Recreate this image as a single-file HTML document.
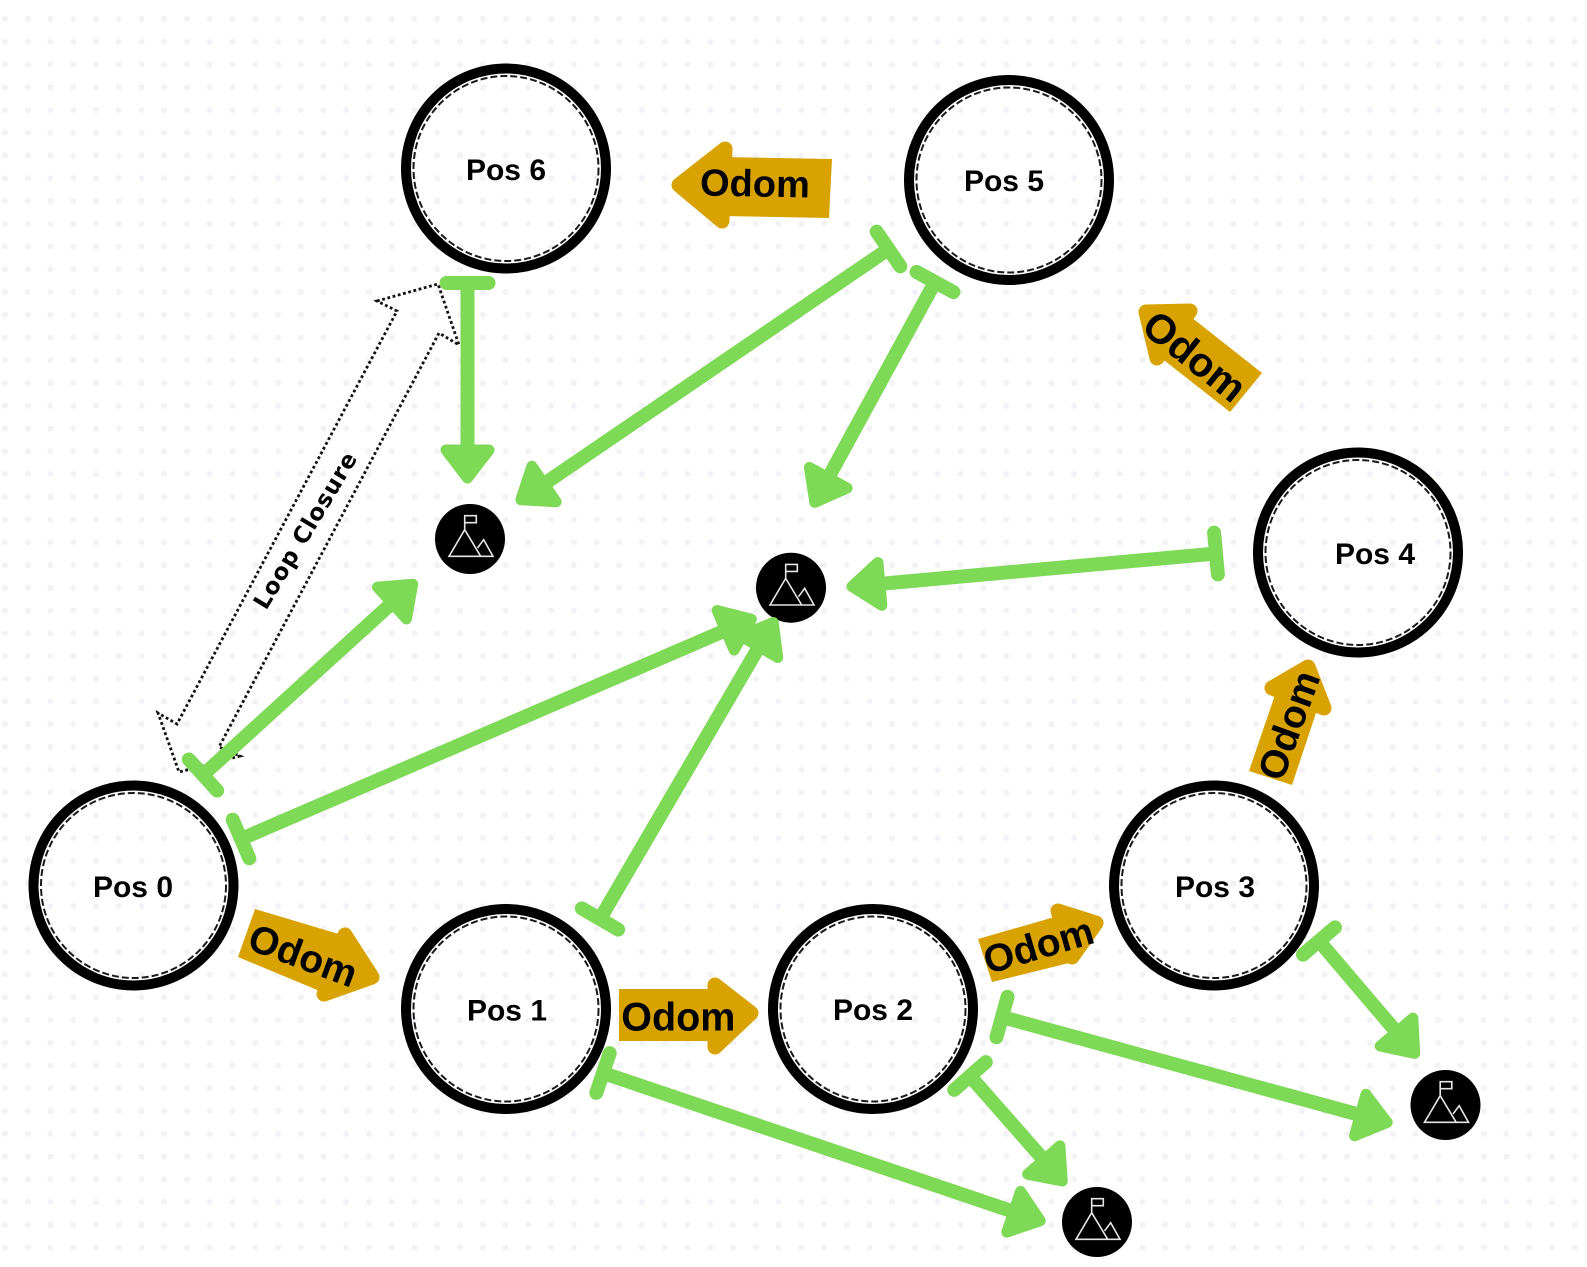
<!DOCTYPE html>
<html>
<head>
<meta charset="utf-8">
<style>
html,body{margin:0;padding:0;background:#fff;}
svg{display:block;}
.pos{font-family:"Liberation Sans",sans-serif;font-weight:700;font-size:30px;fill:#000;text-anchor:middle;}
.odom{font-family:"Liberation Sans",sans-serif;font-weight:700;font-size:39px;fill:#000;text-anchor:middle;}
.ring{fill:none;stroke:#000;stroke-width:10;}
.dash{fill:none;stroke:#1a1a1a;stroke-width:2;stroke-dasharray:7 3;}
.g{stroke:#7ED957;fill:none;stroke-width:14;stroke-linecap:round;}
.h{fill:#7ED957;stroke:#7ED957;stroke-width:11;stroke-linejoin:round;}
.ob{fill:#D8A300;}
.oh{fill:#D8A300;stroke:#D8A300;stroke-width:15;stroke-linejoin:round;}
.ic{fill:none;stroke:#e6e6e6;stroke-width:1.6;}
</style>
</head>
<body>
<svg width="1587" height="1267" viewBox="0 0 1587 1267" xmlns="http://www.w3.org/2000/svg">
<defs>
<pattern id="dots" patternUnits="userSpaceOnUse" x="-6.375" y="7.625" width="22.75" height="22.75">
<circle cx="11.375" cy="11.375" r="3" fill="#f2f2f7"/>
</pattern>
<g id="mt">
<circle r="35" fill="#000"/>
<path class="ic" d="M-5.3 -9.3V-23.3H6.3V-16.3H-5.3M-5.3 -9.3L-21 17.3H23L13.7 0.7L7.5 9M-5.3 -9.3L10.7 17.3"/>
</g>
</defs>
<rect x="0" y="14" width="1580" height="1238" fill="url(#dots)"/>

<!-- Loop closure arrow -->
<path d="M377 301L438 284L459 345L439 333L219 747L240 756L179 772L158 713L177 724L397 311Z" fill="none" stroke="#111" stroke-width="2.8" stroke-dasharray="2.8 2.6"/>
<text transform="translate(306 531) rotate(-59)" font-family="'DejaVu Sans',sans-serif" font-weight="700" font-size="23" text-anchor="middle" dominant-baseline="central" textLength="178" lengthAdjust="spacing" fill="#000">Loop Closure</text>

<!-- Circles -->
<g>
<circle class="ring" cx="506" cy="168.5" r="100"/><circle class="dash" cx="506" cy="168.5" r="92.5"/>
<circle class="ring" cx="1009" cy="180" r="100"/><circle class="dash" cx="1009" cy="180" r="92.5"/>
<circle class="ring" cx="1358" cy="552.5" r="100"/><circle class="dash" cx="1358" cy="552.5" r="92.5"/>
<circle class="ring" cx="1214" cy="885.5" r="100"/><circle class="dash" cx="1214" cy="885.5" r="92.5"/>
<circle class="ring" cx="873" cy="1009" r="100"/><circle class="dash" cx="873" cy="1009" r="92.5"/>
<circle class="ring" cx="506" cy="1009" r="100"/><circle class="dash" cx="506" cy="1009" r="92.5"/>
<circle class="ring" cx="133.5" cy="885.5" r="100"/><circle class="dash" cx="133.5" cy="885.5" r="92.5"/>
</g>
<text class="pos" x="506" y="180">Pos 6</text>
<text class="pos" x="1004" y="191">Pos 5</text>
<text class="pos" x="1375" y="564">Pos 4</text>
<text class="pos" x="1215" y="897">Pos 3</text>
<text class="pos" x="873" y="1020">Pos 2</text>
<text class="pos" x="507" y="1020.5">Pos 1</text>
<text class="pos" x="133" y="897">Pos 0</text>

<!-- Mountains -->
<use href="#mt" x="470" y="539"/>
<use href="#mt" x="791" y="587.7"/>
<use href="#mt" x="1445.5" y="1105"/>
<use href="#mt" x="1097" y="1222"/>

<!-- Green connectors -->
<g transform="translate(467.5 283) rotate(90)"><path class="g" d="M0 -21V21M0 0H170"/><polygon class="h" points="195,0 167,-21.5 167,21.5"/></g>
<g transform="translate(888.5 249) rotate(145.7)"><path class="g" d="M0 -21V21M0 0H420"/><polygon class="h" points="445,0 417,-21.5 417,21.5"/></g>
<g transform="translate(935 282) rotate(118.6)"><path class="g" d="M0 -21V21M0 0H226"/><polygon class="h" points="251,0 223,-21.5 223,21.5"/></g>
<g transform="translate(1216 553.5) rotate(174.83)"><path class="g" d="M0 -21V21M0 0H340"/><polygon class="h" points="365.5,0 337.5,-21.5 337.5,21.5"/></g>
<g transform="translate(203 775) rotate(-42.3)"><path class="g" d="M0 -21V21M0 0H258"/><polygon class="h" points="283.5,0 255.5,-21.5 255.5,21.5"/></g>
<g transform="translate(241 839) rotate(-23.3)"><path class="g" d="M0 -21V21M0 0H530"/><polygon class="h" points="555.7,0 527.7,-21.5 527.7,21.5"/></g>
<g transform="translate(600 919) rotate(-59.7)"><path class="g" d="M0 -21V21M0 0H318"/><polygon class="h" points="343.4,0 315.4,-21.5 315.4,21.5"/></g>
<g transform="translate(603 1073) rotate(18.67)"><path class="g" d="M0 -21V21M0 0H436"/><polygon class="h" points="461.5,0 433.5,-21.5 433.5,21.5"/></g>
<g transform="translate(970 1076) rotate(48.7)"><path class="g" d="M0 -21V21M0 0H113"/><polygon class="h" points="139.8,0 111.8,-21.5 111.8,21.5"/></g>
<g transform="translate(1002 1017) rotate(15.3)"><path class="g" d="M0 -21V21M0 0H374"/><polygon class="h" points="399.4,0 371.4,-21.5 371.4,21.5"/></g>
<g transform="translate(1319 941) rotate(49.6)"><path class="g" d="M0 -21V21M0 0H122"/><polygon class="h" points="147.6,0 119.6,-21.5 119.6,21.5"/></g>

<!-- Odom arrows -->
<polygon class="ob" points="724,157 832,159 829,218 722,216"/>
<polygon class="oh" points="725,149 679,185 722,221"/>
<text class="odom" transform="translate(755 183) rotate(1)" style="font-size:38px"><tspan y="13.5">Odom</tspan></text>

<polygon class="ob" points="1191,317 1262,373 1230,412 1160,357"/>
<polygon class="oh" points="1190,311 1146,312 1157,358"/>
<text class="odom" transform="translate(1195 356) rotate(38.6)" style="font-size:41px"><tspan y="14.5">Odom</tspan></text>

<polygon class="ob" points="1249,771 1292,785 1318,707 1276,692"/>
<polygon class="oh" points="1272,688 1308,667 1324,708"/>
<text class="odom" transform="translate(1288.3 725) rotate(-70)"><tspan y="14">Odom</tspan></text>

<polygon class="ob" points="255,909 238,957 322,992 342,935"/>
<polygon class="oh" points="345,935 372,977 324,994"/>
<text class="odom" transform="translate(303.3 955) rotate(20.5)"><tspan y="14">Odom</tspan></text>

<polygon class="ob" points="619,989 714,989 714,1041 619,1041"/>
<polygon class="oh" points="715,985 751,1013 715,1047"/>
<text class="odom" x="678.3" y="1030.5" style="font-size:39.5px">Odom</text>

<polygon class="ob" points="978,939 992,982 1073,962 1058,916"/>
<polygon class="oh" points="1058,911 1096,923 1072,957"/>
<text class="odom" transform="translate(1038.3 945) rotate(-16.5)"><tspan y="14">Odom</tspan></text>
</svg>
</body>
</html>
